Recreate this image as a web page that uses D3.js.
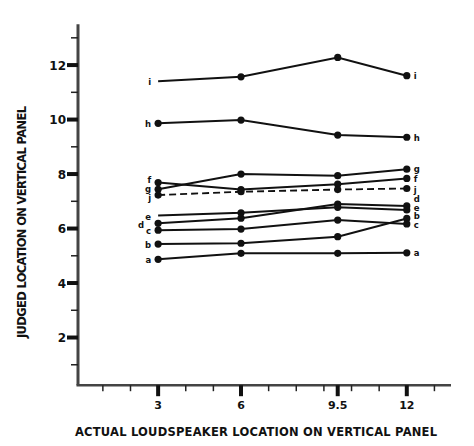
<!DOCTYPE html>
<html>
<head>
<meta charset="utf-8">
<script src="https://cdn.jsdelivr.net/npm/d3@7"></script>
<style>
  body { margin: 0; background: #fff; }
  text { font-family: "DejaVu Sans", sans-serif; font-weight: bold; fill: #111; }
</style>
</head>
<body>
<div id="chart"></div>
<script>
// speaker positions on the panel (x) and judged positions (y) per series
var positions = [3, 6, 9.5, 12];
var seriesNames = ["a", "b", "c", "d", "e", "f", "g", "h", "i", "j"];
var a = [4.87, 5.09, 5.09, 5.11];
var b = [5.43, 5.46, 5.70, 6.37];
var c = [5.94, 5.98, 6.31, 6.17];
var d = [6.19, 6.38, 6.90, 6.83];
var e = [6.48, 6.58, 6.78, 6.68];
var f = [7.69, 7.43, 7.63, 7.84];
var g = [7.44, 8.00, 7.94, 8.18];
var h = [9.86, 9.98, 9.43, 9.35];
var i = [11.41, 11.57, 12.28, 11.61];
var j = [7.23, 7.35, 7.43, 7.47];
var dashedSeries = ["j"];
var noStartDot = ["i", "e"];
var yTicks = [2, 4, 6, 8, 10, 12];
var yMinor = [1, 3, 5, 7, 9, 11, 13];
var xMinor = [1, 2, 4, 5, 7, 8, 9, 10, 11, 13];
var xTitle = "ACTUAL LOUDSPEAKER LOCATION ON VERTICAL PANEL";
var yTitle = "JUDGED LOCATION ON VERTICAL PANEL";

var values = {a: a, b: b, c: c, d: d, e: e, f: f, g: g, h: h, i: i, j: j};

// label nudges (px) so letters don't sit on top of each other
var leftNudge  = {d: [-7, 1], e: [0, 1], f: [0, -3], g: [0, -0.8], j: [0, 2.5]};
var rightNudge = {d: [0, -7.4], e: [0, -3], b: [0, -2.9], c: [0, 0.6], g: [0, -1], j: [0, 1]};

var width = 474, height = 446;

var svg = d3.select("#chart").append("svg")
  .attr("width", width)
  .attr("height", height);

var x = d3.scaleLinear().domain([0.1, 13.6]).range([78, 451]);
var y = d3.scaleLinear().domain([0.25, 13.5]).range([385.2, 24.2]);

// axes lines
svg.append("line")
  .attr("x1", x(0.1)).attr("x2", x(0.1))
  .attr("y1", y(13.5)).attr("y2", y(0.25))
  .attr("stroke", "#444").attr("stroke-width", 3);
svg.append("line")
  .attr("x1", x(0.1) - 1.5).attr("x2", x(13.6))
  .attr("y1", y(0.25)).attr("y2", y(0.25))
  .attr("stroke", "#444").attr("stroke-width", 2.5);

// y ticks
svg.selectAll(".ymaj").data(yTicks).enter().append("line")
  .attr("x1", x(0.1) - 11).attr("x2", x(0.1))
  .attr("y1", function(v){ return y(v); }).attr("y2", function(v){ return y(v); })
  .attr("stroke", "#111").attr("stroke-width", 4);
svg.selectAll(".ymin").data(yMinor).enter().append("line")
  .attr("x1", x(0.1) - 7).attr("x2", x(0.1))
  .attr("y1", function(v){ return y(v); }).attr("y2", function(v){ return y(v); })
  .attr("stroke", "#222").attr("stroke-width", 1.5);
svg.selectAll(".ylab").data(yTicks).enter().append("text")
  .attr("x", 66)
  .attr("y", function(v){ return y(v) + 4.5; })
  .attr("text-anchor", "end")
  .style("font-size", "12px")
  .text(function(v){ return v; });

// x ticks
svg.selectAll(".xmaj").data(positions).enter().append("line")
  .attr("x1", function(v){ return x(v); }).attr("x2", function(v){ return x(v); })
  .attr("y1", y(0.25)).attr("y2", y(0.25) + 11)
  .attr("stroke", "#111").attr("stroke-width", 4);
svg.selectAll(".xmin").data(xMinor).enter().append("line")
  .attr("x1", function(v){ return x(v); }).attr("x2", function(v){ return x(v); })
  .attr("y1", y(0.25)).attr("y2", y(0.25) + 6)
  .attr("stroke", "#222").attr("stroke-width", 1.5);
svg.selectAll(".xlab").data(positions).enter().append("text")
  .attr("x", function(v){ return x(v); })
  .attr("y", y(0.25) + 24)
  .attr("text-anchor", "middle")
  .style("font-size", "11px")
  .text(function(v){ return v; });

// axis titles
svg.append("text")
  .attr("x", 256).attr("y", 436)
  .attr("text-anchor", "middle")
  .attr("textLength", 362)
  .attr("lengthAdjust", "spacing")
  .style("font-size", "11.5px")
  .text(xTitle);
svg.append("text")
  .attr("transform", "translate(26,222) rotate(-90)")
  .attr("text-anchor", "middle")
  .attr("textLength", 232)
  .attr("lengthAdjust", "spacing")
  .style("font-size", "11.5px")
  .text(yTitle);

// series lines
var line = d3.line()
  .x(function(p){ return x(p[0]); })
  .y(function(p){ return y(p[1]); });

seriesNames.forEach(function(name){
  var pts = positions.map(function(px, k){ return [px, values[name][k]]; });
  var dashed = dashedSeries.indexOf(name) >= 0;
  svg.append("path")
    .datum(pts)
    .attr("d", line)
    .attr("fill", "none")
    .attr("stroke", "#111")
    .attr("stroke-width", dashed ? 1.8 : 2)
    .attr("stroke-dasharray", dashed ? "7,4" : null);

  var dots = noStartDot.indexOf(name) >= 0 ? pts.slice(1) : pts;
  svg.selectAll(".dot-" + name).data(dots).enter().append("circle")
    .attr("cx", function(p){ return x(p[0]); })
    .attr("cy", function(p){ return y(p[1]); })
    .attr("r", 3.6)
    .attr("fill", "#111");

  var ln = leftNudge[name] || [0, 0];
  svg.append("text")
    .attr("x", x(positions[0]) - 7 + ln[0])
    .attr("y", y(values[name][0]) + 3.5 + ln[1])
    .attr("text-anchor", "end")
    .style("font-size", "8.5px")
    .text(name);
  var rn = rightNudge[name] || [0, 0];
  svg.append("text")
    .attr("x", x(positions[3]) + 7 + rn[0])
    .attr("y", y(values[name][3]) + 3.5 + rn[1])
    .attr("text-anchor", "start")
    .style("font-size", "8.5px")
    .text(name);
});
</script>
</body>
</html>
